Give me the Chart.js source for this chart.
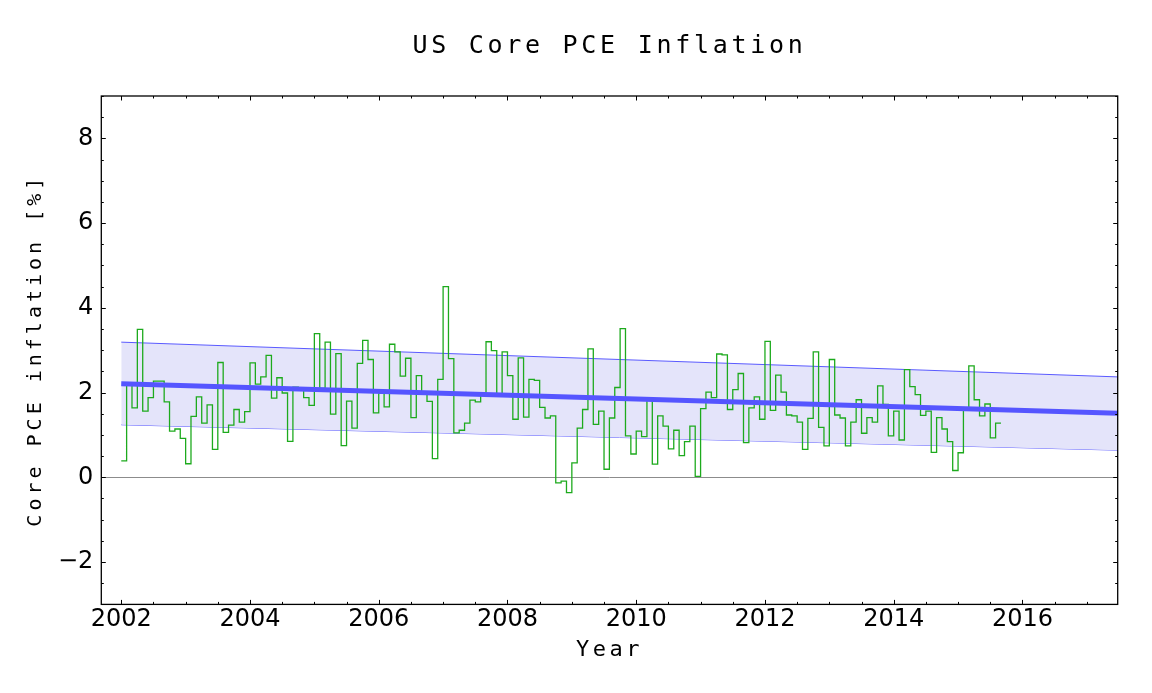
<!DOCTYPE html>
<html>
<head>
<meta charset="utf-8">
<title>US Core PCE Inflation</title>
<script src="https://cdn.jsdelivr.net/npm/chart.js@4"></script>
<style>
  body { margin: 0; background: #fff; }
  #wrap { width: 1152px; height: 693px; }
</style>
</head>
<body>
<div id="wrap"><canvas id="pceChart"></canvas></div>
<script>
// Monthly core PCE inflation, annualised, starting January 2002
const firstYear = 2002;
const coreInflation = [
  0.39, 2.21, 1.64, 3.49, 1.56, 1.88, 2.27, 2.27, 1.78, 1.09, 1.14, 0.92,   // 2002
  0.32, 1.44, 1.90, 1.28, 1.71, 0.66, 2.71, 1.06, 1.23, 1.60, 1.30, 1.55,   // 2003
  2.70, 2.20, 2.37, 2.88, 1.87, 2.35, 1.99, 0.85, 2.13, 2.09, 1.88, 1.70,   // 2004
  3.39, 2.10, 3.19, 1.49, 2.92, 0.75, 1.80, 1.16, 2.69, 3.23, 2.78, 1.52,   // 2005
  1.99, 1.66, 3.14, 2.96, 2.39, 2.81, 1.41, 2.40, 2.02, 1.79, 0.44, 2.31,   // 2006
  4.50, 2.80, 1.05, 1.11, 1.28, 1.82, 1.78, 1.97, 3.20, 2.99, 1.91, 2.96,   // 2007
  2.40, 1.37, 2.82, 1.42, 2.31, 2.29, 1.65, 1.40, 1.45, -0.13, -0.09, -0.36, // 2008
  0.34, 1.16, 1.60, 3.03, 1.25, 1.56, 0.19, 1.40, 2.12, 3.51, 0.98, 0.55,   // 2009
  1.09, 0.96, 1.83, 0.31, 1.45, 1.21, 0.67, 1.11, 0.51, 0.84, 1.21, 0.02,   // 2010
  1.62, 2.01, 1.88, 2.91, 2.89, 1.60, 2.07, 2.45, 0.82, 1.64, 1.90, 1.37,   // 2011
  3.21, 1.58, 2.41, 2.01, 1.47, 1.45, 1.30, 0.66, 1.39, 2.96, 1.18, 0.74,   // 2012
  2.78, 1.47, 1.40, 0.74, 1.30, 1.83, 1.04, 1.41, 1.30, 2.16, 1.72, 0.98,   // 2013
  1.56, 0.88, 2.54, 2.14, 1.95, 1.46, 1.56, 0.59, 1.41, 1.14, 0.84, 0.16,   // 2014
  0.58, 1.58, 2.63, 1.83, 1.45, 1.73, 0.93, 1.28                            // 2015
];

// Trend line and its band, values at the start and the end of the fit
const trendYears = [2002, 2017.48];
const trendCenter = [2.21, 1.51];
const trendUpper = [3.19, 2.37];
const trendLower = [1.24, 0.64];

// Axes
const xRange = [2001.69, 2017.48];
const yRange = [-3, 9];
const xTickLabels = [2002, 2004, 2006, 2008, 2010, 2012, 2014, 2016];
const yTickLabels = [-2, 0, 2, 4, 6, 8];

// each month holds its value until the next month starts
const pcePoints = coreInflation.map((v, i) => ({ x: firstYear + i / 12, y: v }));
pcePoints.push({ x: firstYear + coreInflation.length / 12, y: coreInflation[coreInflation.length - 1] });

const toLine = vals => trendYears.map((yr, i) => ({ x: yr, y: vals[i] }));

// titles use wider letter spacing, like the original
function spaced(fn, spacing) {
  return function (...args) {
    const old = this.ctx.letterSpacing;
    this.ctx.letterSpacing = spacing;
    fn.apply(this, args);
    this.ctx.letterSpacing = old;
  };
}
const letterSpacing = {
  id: 'letterSpacing',
  afterLayout(chart) {
    if (chart.$spaced) return;
    chart.$spaced = true;
    chart.titleBlock.draw = spaced(chart.titleBlock.draw, '3.7px');
    chart.scales.x.drawTitle = spaced(chart.scales.x.drawTitle, '3.5px');
    chart.scales.y.drawTitle = spaced(chart.scales.y.drawTitle, '4px');
  }
};

// frame with small inward ticks on all four sides
const frameTicks = {
  id: 'frameTicks',
  afterDraw(chart) {
    const { ctx, chartArea: a, scales: { x, y } } = chart;
    ctx.save();
    ctx.strokeStyle = '#000';
    ctx.lineWidth = 1;
    ctx.beginPath();
    x.ticks.forEach(t => {
      if ((t.value * 2) % 1 !== 0) return;
      const len = t.value % 2 === 0 ? 4.5 : 2.5;
      const px = Math.round(x.getPixelForValue(t.value)) + 0.5;
      ctx.moveTo(px, a.bottom); ctx.lineTo(px, a.bottom - len);
      ctx.moveTo(px, a.top); ctx.lineTo(px, a.top + len);
    });
    y.ticks.forEach(t => {
      if ((t.value * 2) % 1 !== 0) return;
      const len = t.value % 2 === 0 ? 4.5 : 2.5;
      const py = Math.round(y.getPixelForValue(t.value)) + 0.5;
      ctx.moveTo(a.left, py); ctx.lineTo(a.left + len, py);
      ctx.moveTo(a.right, py); ctx.lineTo(a.right - len, py);
    });
    ctx.stroke();
    ctx.lineWidth = 1.3;
    ctx.strokeRect(a.left, a.top, a.right - a.left, a.bottom - a.top);
    ctx.restore();
  }
};

const tickFont = { family: 'DejaVu Sans', size: 24 };
const titleFamily = 'DejaVu Sans Mono';

new Chart(document.getElementById('pceChart'), {
  type: 'line',
  data: {
    datasets: [
      {
        label: 'Trend',
        data: toLine(trendCenter),
        borderColor: '#5555ff',
        borderWidth: 5,
        pointRadius: 0,
        order: 0
      },
      {
        label: 'Core PCE',
        data: pcePoints,
        stepped: true,
        borderColor: '#1daa1d',
        borderWidth: 1.3,
        pointRadius: 0,
        order: 1
      },
      {
        label: 'Upper',
        data: toLine(trendUpper),
        borderColor: '#5a5aff',
        borderWidth: 1,
        pointRadius: 0,
        backgroundColor: '#e4e4fa',
        fill: 3,
        order: 2
      },
      {
        label: 'Lower',
        data: toLine(trendLower),
        borderColor: '#5a5aff',
        borderWidth: 1,
        pointRadius: 0,
        order: 3
      }
    ]
  },
  options: {
    responsive: true,
    maintainAspectRatio: false,
    animation: false,
    events: [],
    layout: { padding: { left: 0, right: 34.3, top: 0, bottom: 0 } },
    plugins: {
      legend: { display: false },
      tooltip: { enabled: false },
      title: {
        display: true,
        text: 'US Core PCE Inflation',
        fullSize: false,
        color: '#000',
        font: { family: titleFamily, size: 25, weight: 'normal' },
        padding: { top: 31, bottom: 35 }
      }
    },
    scales: {
      x: {
        type: 'linear',
        min: xRange[0],
        max: xRange[1],
        grid: { display: false, drawTicks: false },
        border: { display: false },
        ticks: {
          stepSize: 0.5,
          includeBounds: false,
          autoSkip: false,
          maxRotation: 0,
          padding: 1,
          color: '#000',
          font: tickFont,
          callback: v => xTickLabels.includes(v) ? String(v) : ''
        },
        title: {
          display: true,
          text: 'Year',
          color: '#000',
          font: { family: titleFamily, size: 22 },
          padding: { top: 0, bottom: 29.4 }
        },
        afterFit(scale) { scale.height = 88.6; }
      },
      y: {
        min: yRange[0],
        max: yRange[1],
        grid: {
          drawTicks: false,
          color: c => c.tick && c.tick.value === 0 ? '#8c8c8c' : 'rgba(0,0,0,0)'
        },
        border: { display: false },
        ticks: {
          stepSize: 0.5,
          autoSkip: false,
          padding: 8,
          color: '#000',
          font: tickFont,
          callback: v => yTickLabels.includes(v) ? String(v).replace('-', '\u2212') : ''
        },
        title: {
          display: true,
          text: 'Core PCE inflation [%]',
          color: '#000',
          font: { family: titleFamily, size: 20 },
          padding: { top: 23.4, bottom: 0 }
        },
        afterFit(scale) { scale.width = 101.3; }
      }
    }
  },
  plugins: [letterSpacing, frameTicks]
});
</script>
</body>
</html>
